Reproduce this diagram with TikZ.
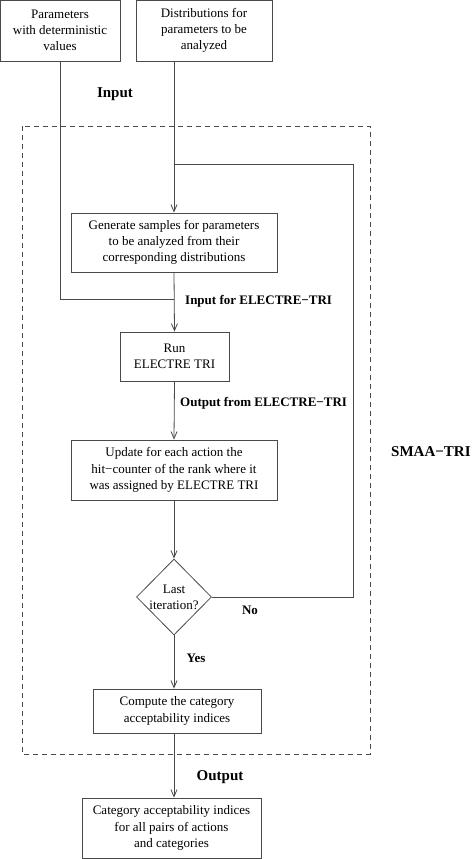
\documentclass[tikz,border=0pt]{standalone}
\usepackage{fontspec}
\setmainfont{Liberation Serif}
\usepackage{tikz}
\usepackage{xcolor}
\usetikzlibrary{shapes.geometric,arrows.meta,positioning}
\definecolor{linegray}{HTML}{4A4A4A}
\tikzset{
    flow-box/.style = {draw=linegray, line width=0.8pt, rectangle, align=center, inner sep=0pt, font=\fontsize{13}{16.3}\selectfont},
    decision/.style = {draw=linegray, line width=0.8pt, diamond, shape aspect=1, align=center, inner sep=-1.5pt, minimum width=75pt, minimum height=76pt, font=\fontsize{13}{16.3}\selectfont},
    flow-label/.style = {font=\fontsize{13}{15}\selectfont\bfseries, inner sep=0pt},
    big-label/.style = {font=\fontsize{15}{17}\selectfont\bfseries, inner sep=0pt},
    flow-arrow/.style = {draw=linegray, line width=0.8pt, -{Straight Barb[length=7pt,width=6pt]}},
    flow-line/.style = {draw=linegray, line width=0.8pt},
    group-box/.style = {draw=linegray, line width=0.8pt, dash pattern=on 5pt off 4pt},
}

\begin{document}
\begin{tikzpicture}[x=1pt,y=1pt]
\useasboundingbox (0,0) rectangle (474,-859);
% inputs
\node[flow-box, minimum width=120pt, minimum height=61pt] (params) at (60,-30.5) {Parameters\\with deterministic\\values};
\node[flow-box, minimum width=136pt, minimum height=61pt] (dists) at (204,-30.5) {Distributions for\\parameters to be\\analyzed};
\node[big-label] (input) at (115,-94) {Input};
% SMAA-TRI loop
\draw[group-box] (22,-126) rectangle (370,-754);
\node[big-label, anchor=west] (smaa) at (391,-452) {SMAA−TRI};
\node[flow-box, minimum width=206pt, minimum height=59pt] (gen) at (174,-242.5) {Generate samples for parameters\\to be analyzed from their\\corresponding distributions};
\node[flow-box, minimum width=109pt, minimum height=49pt] (run) at (174.5,-356.5) {Run\\ELECTRE TRI};
\node[flow-box, minimum width=206pt, minimum height=60pt] (update) at (174,-470) {Update for each action the\\hit−counter of the rank where it\\was assigned by ELECTRE TRI};
\node[decision] (check) at (174,-597) {Last\\iteration?};
\node[flow-box, minimum width=168pt, minimum height=44pt] (compute) at (177,-711) {Compute the category\\acceptability indices};
% output
\node[flow-box, minimum width=179pt, minimum height=60pt] (result) at (171.5,-828) {Category acceptability indices\\for all pairs of actions\\and categories};
\node[big-label] (output) at (220,-777) {Output};
% labels on the connectors
\node[flow-label, anchor=west] (in-tri) at (185,-301) {Input for ELECTRE−TRI};
\node[flow-label, anchor=west] (out-tri) at (180,-403) {Output from ELECTRE−TRI};
\node[flow-label] (no) at (250,-610) {No};
\node[flow-label] (yes) at (196,-658) {Yes};
% connectors
\coordinate (loop-in) at (174,-164);
\coordinate (loop-corner) at (353,-164);
\coordinate (merge) at (174,-299);
\draw[flow-arrow] (dists.south -| gen.north) -- (gen.north);
\draw[flow-line] (params.south) |- (merge);
\draw[flow-arrow] (gen.south) -- (run.north);
\draw[flow-arrow] (run.south) -- (update.north);
\draw[flow-arrow] (update.south) -- (check.north);
\draw[flow-line] (check.east) -| (loop-corner) -- (loop-in);
\draw[flow-arrow] (check.south) -- (check.south |- compute.north);
\draw[flow-arrow] (check.south |- compute.south) -- (check.south |- result.north);
\end{tikzpicture}
\end{document}
